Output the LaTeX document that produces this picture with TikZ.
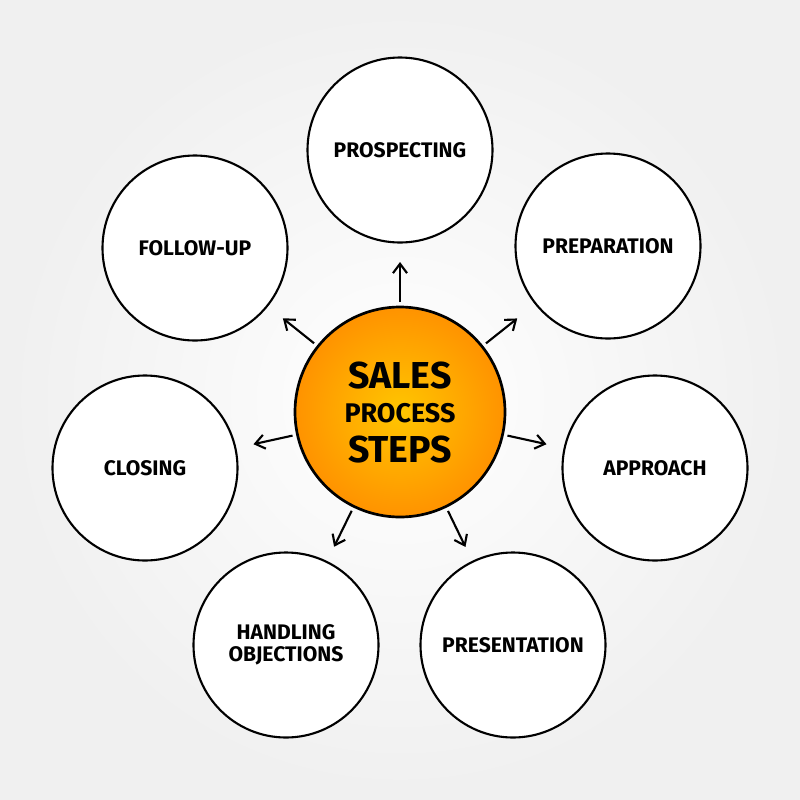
\documentclass[tikz,border=0pt]{standalone}
\usepackage{fontspec}
\setmainfont{Fira Sans}
\usetikzlibrary{calc,arrows.meta}
\begin{document}
\begin{tikzpicture}[x=0.03cm,y=-0.03cm,
  outer/.style={circle,draw=black,line width=1.8pt,minimum size=5.55cm,fill=white,font=\bfseries\fontsize{18}{19}\selectfont,align=center,inner sep=0pt},
  big/.style={font=\bfseries\fontsize{32}{33}\selectfont,inner sep=0pt},
  arr/.style={-{Straight Barb[length=8pt,width=12pt,line width=1.8pt]},line width=1.8pt}]
\shade[inner color=white,outer color=black!6] (0,0) rectangle (800,800);
\useasboundingbox (0,0) rectangle (800,800);
\node[circle,draw=black,line width=2.3pt,minimum size=6.3cm,inner color=orange!45!yellow,outer color=orange!85!yellow] (c) at (400,412) {};
\node[big] (t1) at (400,376) {SALES};
\node[font=\bfseries\fontsize{23}{24}\selectfont,inner sep=0pt] (t2) at (400,413) {PROCESS};
\node[big] (t3) at (400,450) {STEPS};
\node[outer] (p1) at (400,150) {PROSPECTING};
\node[outer] (p2) at (608,246) {PREPARATION};
\node[outer] (p3) at (655,468) {APPROACH};
\node[outer] (p4) at (513,645) {PRESENTATION};
\node[outer] (p5) at (286,645) {HANDLING\\OBJECTIONS};
\node[outer] (p6) at (145,468) {CLOSING};
\node[outer] (p7) at (195,248) {FOLLOW-UP};
\foreach \p in {p1,p2,p3,p4,p5,p6,p7}
  \draw[arr] ($(c)!3.3cm!(\p)$) -- ($(c)!4.5cm!(\p)$);
\end{tikzpicture}
\end{document}
